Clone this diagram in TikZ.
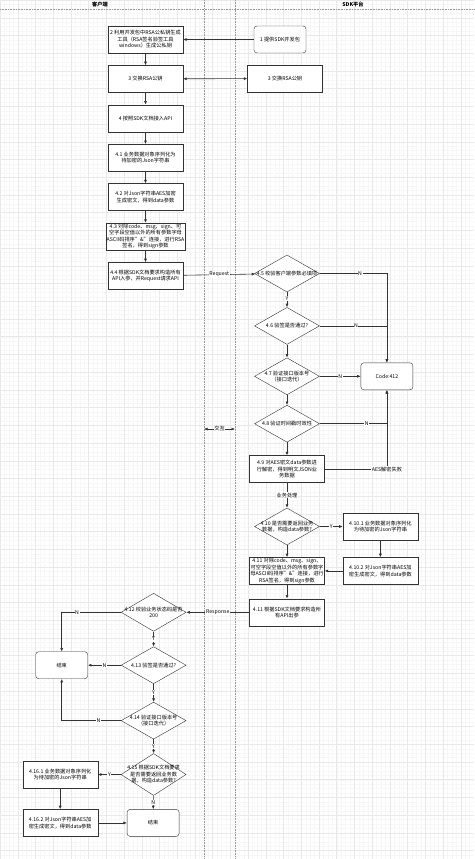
\documentclass[tikz,border=0pt]{standalone}
\usepackage{fontspec}
\setmainfont{Noto Sans CJK SC}
\usetikzlibrary{
  arrows.meta,
  positioning,
  shapes.geometric
}
\definecolor{LineGray}{RGB}{51,51,51}
\definecolor{LaneGray}{RGB}{150,150,150}
\definecolor{GridMinor}{RGB}{247,247,247}
\definecolor{GridMajor}{RGB}{233,233,233}
\newcommand{\diagfont}{\fontsize{5.2}{6.5}\selectfont}
\tikzset{
  procbox/.style={draw=LineGray,fill=white,minimum width=75pt,minimum height=27pt,inner sep=0.5pt,align=center,font=\diagfont},
  roundbox/.style={procbox,rounded corners=3pt,minimum width=52pt},
  decision/.style={diamond,draw=LineGray,fill=white,minimum width=65pt,minimum height=37pt,inner sep=0pt},
  dtext/.style={align=center,font=\diagfont,inner sep=0pt},
  flow/.style={-{Latex[length=3.5pt,width=3pt]},draw=LineGray,line width=0.6pt},
  flowbi/.style={{Latex[length=3.5pt,width=3pt]}-{Latex[length=3.5pt,width=3pt]},draw=LineGray,line width=0.6pt},
  elabel/.style={fill=white,inner sep=0.6pt,font=\diagfont},
  lane/.style={draw=LaneGray,densely dotted,line width=0.6pt},
  gridminor/.style={draw=GridMinor,line width=0.3pt},
  gridmajor/.style={draw=GridMajor,line width=0.4pt}
}
\begin{document}
\begin{tikzpicture}[x=1pt,y=-1pt]
\useasboundingbox (0,0) rectangle (474,859);
% grid background
\foreach \gx in {0,4.43,...,474} \draw[gridminor] (\gx,0) -- (\gx,859);
\foreach \gy in {0,4.43,...,859} \draw[gridminor] (0,\gy) -- (474,\gy);
\foreach \gx in {0,17.72,...,474} \draw[gridmajor] (\gx,0) -- (\gx,859);
\foreach \gy in {0,17.72,...,859} \draw[gridmajor] (0,\gy) -- (474,\gy);

% lanes
\draw[lane] (0,9) -- (474,9);
\draw[lane] (204,0) -- (204,859);
\draw[lane] (235,0) -- (235,859);
\node[font=\diagfont\bfseries] (hclient) at (100,4.5) {客户端};
\node[font=\diagfont\bfseries] (hsdk) at (353,4.5) {SDK平台};

% client side
\node[procbox] (n2) at (145.5,39.5) {2 利用开发包中RSA公私钥生成\\工具（RSA签名验签工具\\windows）生成公私钥};
\node[roundbox] (n1) at (280,39.5) {1 提供SDK开发包};
\node[procbox, below=12pt of n2] (n3c) {3 交换RSA公钥};
\node[procbox] (n3s) at (285,78.5) {3 交换RSA公钥};
\node[procbox, below=12pt of n3c] (n4) {4 按照SDK文档接入API};
\node[procbox, below=12pt of n4] (n41) {4.1 业务数据对象序列化为\\待加密的Json字符串};
\node[procbox, below=12pt of n41] (n42) {4.2 对Json字符串AES加密\\生成密文，得到data参数};
\node[procbox, below=12pt of n42] (n43) {4.3 对除code、msg、sign、可\\空字段空值以外的所有参数字母\\ASCII码排序"\&"连接，进行RSA\\签名，得到sign参数};
\node[procbox, below=12pt of n43] (n44) {4.4 根据SDK文档要求构造所有\\API入参，并Request请求API};

% platform side
\node[decision, label={[dtext]center:4.5 校验客户端参数必填项}] (d45) at (287,273.5) {};
\node[decision, below=15pt of d45, label={[dtext]center:4.6 验签是否通过?}] (d46) {};
\node[decision, below=13pt of d46, label={[dtext]center:4.7 验证接口版本号\\（接口迭代）}] (d47) {};
\node[decision, below=10pt of d47, label={[dtext]center:4.8 验证时间戳时效性}] (d48) {};
\node[procbox, below=13pt of d48] (n49) {4.9 对AES密文data参数进\\行解密，得到明文JSON业\\务数据};
\node[roundbox, right=41pt of d47] (c412) {Code:412};
\node[decision, below=25pt of n49, label={[dtext]center:4.10 是否需要返回业务\\数据，构造data参数?}] (d410) {};
\node[procbox, right=23pt of d410] (n4101) {4.10.1 业务数据对象序列化\\为待加密的Json字符串};
\node[procbox, below=17pt of n4101] (n4102) {4.10.2 对Json字符串AES加\\密生成密文，得到data参数};
\node[procbox, below=12pt of d410] (n411a) {4.11 对除code、msg、sign、\\可空字段空值以外的所有参数字\\母ASCII码排序"\&"连接，进行\\RSA签名，得到sign参数};
\node[procbox, below=14pt of n411a] (n411b) {4.11 根据SDK文档要求构造所\\有API出参};

% response check on client side
\node[decision, minimum height=38pt, left=63pt of n411b, label={[dtext]center:4.12 校验业务状态码是否\\200}] (d412) {};
\node[decision, below=15pt of d412, label={[dtext]center:4.13 验签是否通过?}] (d413) {};
\node[decision, below=18pt of d413, label={[dtext]center:4.14 验证接口版本号\\（接口迭代）}] (d414) {};
\node[decision, minimum height=42pt, below=14pt of d414, label={[dtext]center:4.15 根据SDK文档要求\\是否需要返回业务数\\据，构造data参数?}] (d415) {};
\node[roundbox, left=33pt of d413] (end1) {结束};
\node[procbox, left=23pt of d415] (n4161) {4.16.1 业务数据对象序列化\\为待加密的Json字符串};
\node[procbox, below=21pt of n4161] (n4162) {4.16.2 对Json字符串AES加\\密生成密文，得到data参数};
\node[roundbox, right=29pt of n4162] (end2) {结束};

\coordinate (xa) at (204,429);
\coordinate (xb) at (235,429);
\draw[flowbi] (xa) -- node[elabel]{交互} (xb);

% connectors
\draw[flow] (n1) -- (n2);
\draw[flow] (n2) -- (n3c);
\draw[flowbi] (n3c) -- (n3s);
\draw[flow] (n3c) -- (n4);
\draw[flow] (n4) -- (n41);
\draw[flow] (n41) -- (n42);
\draw[flow] (n42) -- (n43);
\draw[flow] (n43) -- (n44);
\draw[flow] (n44) -- node[elabel]{Request} (d45);

\draw[flow] (d45) -- node[elabel,pos=0.4]{Y} (d46);
\draw[flow] (d45) -| node[elabel,pos=0.3]{N} (c412);
\draw[flow] (d46) -| node[elabel,pos=0.27]{N} (c412);
\draw[flow] (d46) -- (d47);
\draw[flow] (d47) -- node[elabel]{N} (c412);
\draw[flow] (d47) -- (d48);
\draw[flow] (d48) -| node[elabel,pos=0.35]{N} (c412);
\draw[flow] (d48) -- (n49);
\draw[flow] (n49) -| node[elabel,pos=0.5]{AES解密失败} (c412);
\draw[flow] (n49) -- node[elabel]{业务处理} (d410);
\draw[flow] (d410) -- node[elabel]{Y} (n4101);
\draw[flow] (n4101) -- (n4102);
\draw[flow] (n4102) -- (n411a);
\draw[flow] (d410) -- (n411a);
\draw[flow] (n411a) -- (n411b);
\draw[flow] (n411b) -- node[elabel]{Response} (d412);

\draw[flow] (d412) -| node[elabel,pos=0.37]{N} (end1);
\draw[flow] (d412) -- node[elabel]{Y} (d413);
\draw[flow] (d413) -- node[elabel]{N} (end1);
\draw[flow] (d413) -- node[elabel]{Y} (d414);
\draw[flow] (d414) -| node[elabel,pos=0.19]{N} (end1);
\draw[flow] (d414) -- node[elabel]{Y} (d415);
\draw[flow] (d415) -- node[elabel]{Y} (n4161);
\draw[flow] (d415) -- node[elabel]{N} (end2);
\draw[flow] (n4161) -- (n4162);
\draw[flow] (n4162) -- (end2);
\end{tikzpicture}
\end{document}
